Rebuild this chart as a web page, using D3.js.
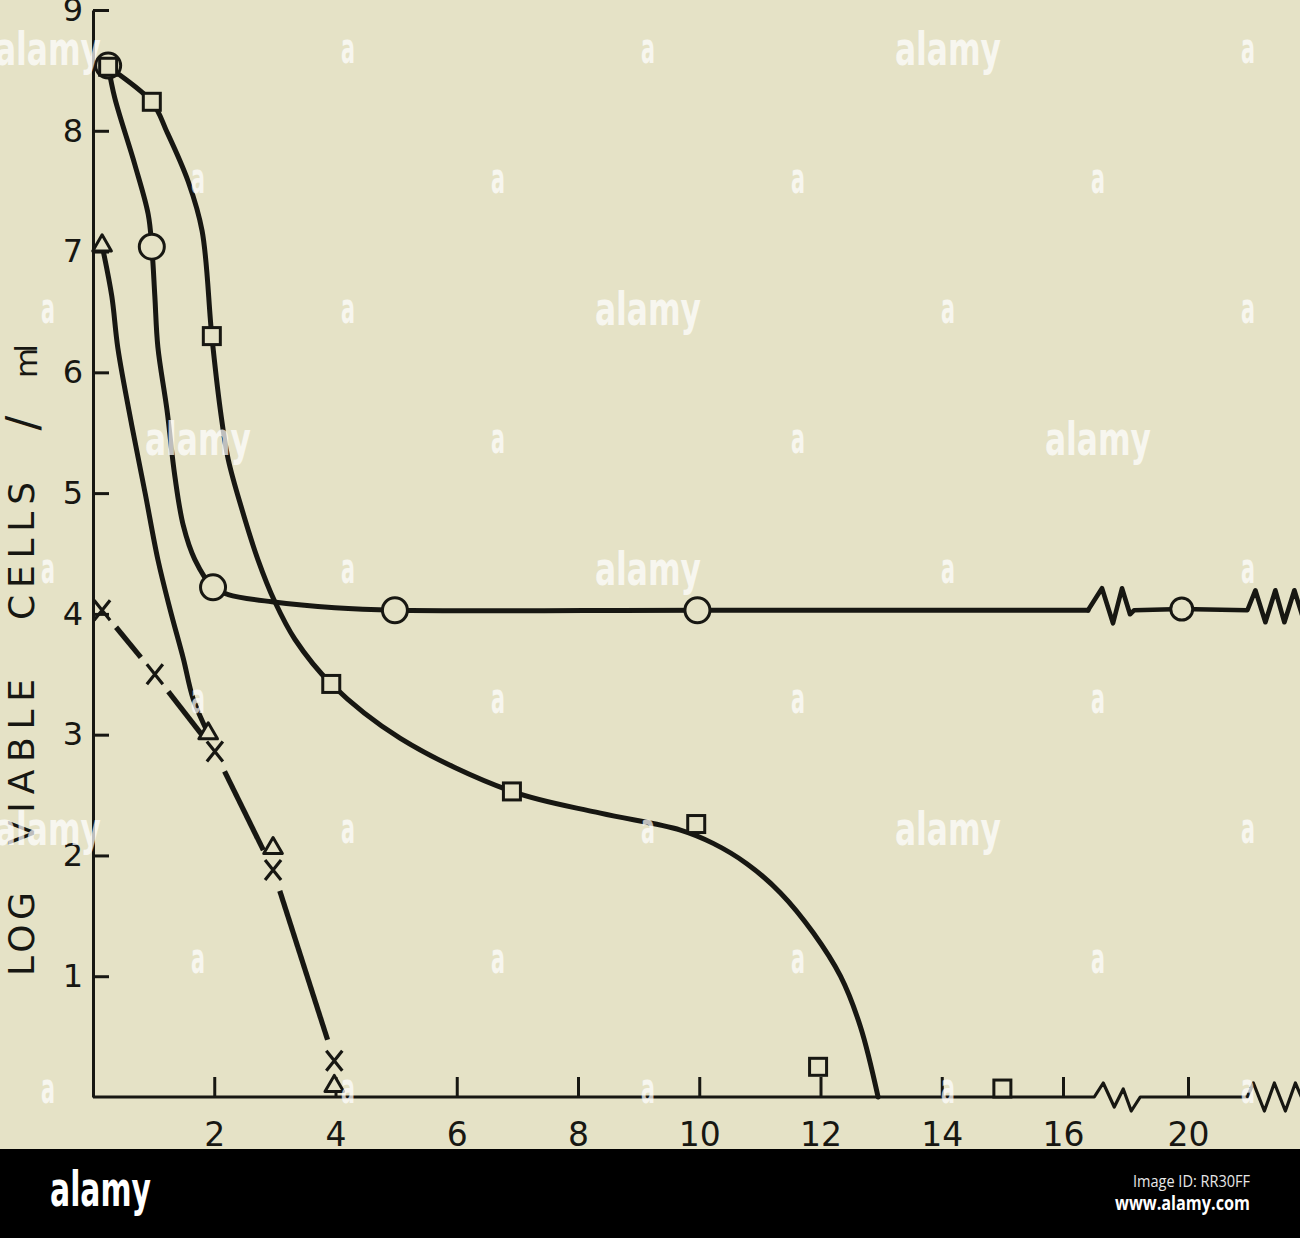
<!DOCTYPE html>
<html><head><meta charset="utf-8">
<script src="https://d3js.org/d3.v7.min.js"></script>
<style>html,body{margin:0;padding:0;background:#e5e2c6;overflow:hidden}svg{display:block}</style>
</head><body>
<svg id="chart" width="1300" height="1238"></svg>
<script>
// ---------- data (time, log viable cells / ml) ----------
const xTicks = [2, 4, 6, 8, 10, 12, 14, 16, 20];
const yTicks = [1, 2, 3, 4, 5, 6, 7, 8, 9];
const yTitleWords = ["LOG", "VIABLE", "CELLS", "/", "ml"];

// plotted points
const circleT   = [0.25, 0.97, 1.98, 4.98, 9.97, 19.8];
const circleV   = [8.54, 7.04, 4.22, 4.03, 4.03, 4.04];
const squareT   = [0.25, 0.97, 1.96, 3.93, 6.91, 9.95, 11.96, 15.0];
const squareV   = [8.53, 8.24, 6.30, 3.42, 2.53, 2.26, 0.25, 0.07];
const triangleT = [0.15, 1.90, 2.97, 3.98];
const triangleV = [7.05, 3.01, 2.06, 0.09];
const crossT    = [0.15, 1.02, 2.01, 2.97, 3.98];
const crossV    = [4.03, 3.50, 2.86, 1.88, 0.30];

// hand-drawn fitted curves
const circleCurveT = [0.25, 0.36, 0.69, 0.91, 0.97, 1.02, 1.07, 1.22, 1.35, 1.49, 1.68, 1.98, 2.23, 2.95, 3.99, 5.0, 10.0, 16.8];
const circleCurveV = [8.54, 8.27, 7.72, 7.31, 7.04, 6.63, 6.21, 5.69, 5.14, 4.73, 4.45, 4.22, 4.16, 4.10, 4.05, 4.03, 4.03, 4.03];
const squareCurveT = [0.25, 0.97, 1.22, 1.57, 1.80, 1.96, 2.10, 2.23, 2.46, 2.72, 3.00, 3.33, 3.93, 5.07, 6.91, 8.37, 9.69, 10.23, 10.79, 11.34, 11.88, 12.33, 12.66, 12.95];
const squareCurveV = [8.53, 8.24, 7.99, 7.58, 7.17, 6.30, 5.69, 5.28, 4.86, 4.45, 4.10, 3.79, 3.42, 2.97, 2.53, 2.35, 2.21, 2.10, 1.93, 1.69, 1.36, 1.00, 0.58, 0.00];
const triangleCurveT = [0.15, 0.31, 0.41, 0.64, 0.86, 1.07, 1.27, 1.49, 1.65, 1.90];
const triangleCurveV = [7.05, 6.63, 6.20, 5.56, 5.00, 4.45, 4.04, 3.63, 3.30, 3.01];

// scale breaks (time values where the zig-zag break marks sit)
const axisBreaks = [17.0, 21.9];
const lineBreaks = [16.8, 21.9];

// ---------- drawing ----------
const W = 1300, H = 1238, BG = '#e5e2c6', INK = '#171712';
const FONT = '"DejaVu Sans", sans-serif';
const svg = d3.select('#chart');
svg.append('rect').attr('width', W).attr('height', H).attr('fill', BG);

const x = d3.scaleLinear().domain([0, 16, 20]).range([93, 1063, 1188]);
const y = d3.scaleLinear().domain([0, 9]).range([1097, 10]);
const zip = (t, v) => t.map((d, i) => [d, v[i]]);
const curveGen = d3.line().x(d => x(d[0])).y(d => y(d[1])).curve(d3.curveCatmullRom.alpha(0.5));
const pxLine = d3.line();

// Y axis
const yAxis = d3.axisLeft(y).tickValues(yTicks).tickSizeInner(-16).tickSizeOuter(0).tickPadding(10).tickFormat(d3.format('d'));
const gy = svg.append('g').attr('transform', `translate(${x(0)},0)`).call(yAxis);
gy.select('.domain').attr('stroke', INK).attr('stroke-width', 3);
gy.selectAll('.tick line').attr('stroke', INK).attr('stroke-width', 3);
gy.selectAll('.tick text').attr('fill', INK).style('font-family', FONT).style('font-size', '32px');

// X axis ticks + labels
const xAxis = d3.axisBottom(x).tickValues(xTicks).tickSizeInner(-20).tickSizeOuter(0).tickPadding(26).tickFormat(d3.format('d'));
const gx = svg.append('g').attr('transform', `translate(0,${y(0)})`).call(xAxis);
gx.select('.domain').remove();
gx.selectAll('.tick line').attr('stroke', INK).attr('stroke-width', 3);
gx.selectAll('.tick text').attr('fill', INK).style('font-family', FONT).style('font-size', '33px');

// break-mark shapes (pixel offsets)
const zigAxis1 = [[0,0],[9,-14],[20,10],[29,-8],[37,14],[46,0]];
const zigAxis2 = [[0,0],[6,-14],[17,14],[27,-14],[38,14],[48,-14],[60,14]];
const zigLine1 = [[0,0],[14,-22],[25,13],[34,-22],[42,4],[46,0]];
const zigLine2 = [[0,0],[8,-20],[18,12],[28,-20],[37,12],[47,-20],[57,12]];
function zig(t, v, offs) { const px = x(t), py = y(v); return offs.map(o => [px + o[0], py + o[1]]); }

// X axis baseline with breaks
const axisPts = [[x(0), y(0)], ...zig(axisBreaks[0], 0, zigAxis1), ...zig(axisBreaks[1], 0, zigAxis2)];
svg.append('path').attr('d', pxLine(axisPts)).attr('fill', 'none').attr('stroke', INK)
  .attr('stroke-width', 3.2).attr('stroke-linejoin', 'round');

// curves
const curveStyle = s => s.attr('fill', 'none').attr('stroke', INK).attr('stroke-width', 5)
  .attr('stroke-linejoin', 'round').attr('stroke-linecap', 'round');
svg.append('path').attr('d', curveGen(zip(circleCurveT, circleCurveV))).call(curveStyle);
const flatV = circleCurveV[circleCurveV.length - 1];
const circleTail = [...zig(lineBreaks[0], flatV, zigLine1), [x(circleT[5]), y(circleV[5])], ...zig(lineBreaks[1], flatV, zigLine2)];
svg.append('path').attr('d', pxLine(circleTail)).call(curveStyle).attr('stroke-width', 4.6);
svg.append('path').attr('d', curveGen(zip(squareCurveT, squareCurveV))).call(curveStyle);
svg.append('path').attr('d', curveGen(zip(triangleCurveT, triangleCurveV))).call(curveStyle);

// dashed cross line: one dash between successive crosses
const crossPts = zip(crossT, crossV).map(d => [x(d[0]), y(d[1])]);
const GAP = 22;
for (let i = 0; i < crossPts.length - 1; i++) {
  const [x1, y1] = crossPts[i], [x2, y2] = crossPts[i + 1];
  const L = Math.hypot(x2 - x1, y2 - y1);
  if (L <= 2 * GAP + 6) continue;
  const ux = (x2 - x1) / L, uy = (y2 - y1) / L;
  svg.append('path').attr('d', pxLine([[x1 + ux * GAP, y1 + uy * GAP], [x2 - ux * GAP, y2 - uy * GAP]]))
    .attr('stroke', INK).attr('stroke-width', 5.2).attr('fill', 'none');
}

// markers
svg.append('g').selectAll('circle').data(zip(circleT, circleV)).join('circle')
  .attr('cx', d => x(d[0])).attr('cy', d => y(d[1])).attr('r', (d, i) => i === 5 ? 11 : 12.5)
  .attr('fill', BG).attr('stroke', INK).attr('stroke-width', 3);
svg.append('g').selectAll('rect').data(zip(squareT, squareV)).join('rect')
  .attr('x', d => x(d[0]) - 8.5).attr('y', d => y(d[1]) - 8.5).attr('width', 17).attr('height', 17)
  .attr('fill', BG).attr('stroke', INK).attr('stroke-width', 3);
const tri = d3.symbol().type(d3.symbolTriangle).size(150);
svg.append('g').selectAll('path').data(zip(triangleT, triangleV)).join('path')
  .attr('d', tri).attr('transform', d => `translate(${x(d[0])},${y(d[1])})`)
  .attr('fill', BG).attr('stroke', INK).attr('stroke-width', 3).attr('stroke-linejoin', 'round');
svg.append('g').selectAll('path').data(zip(crossT, crossV)).join('path')
  .attr('d', 'M-8,-10L8,10M8,-10L-8,10').attr('transform', d => `translate(${x(d[0])},${y(d[1])})`)
  .attr('fill', 'none').attr('stroke', INK).attr('stroke-width', 3.2);

// Y title (rotated, hand-lettered style)
const titleLayout = [
  {cy: 934, bx: 34, size: 36, len: 84},
  {cy: 762, bx: 34, size: 36, len: 166},
  {cy: 551, bx: 34, size: 36, len: 138},
  {cy: 423, bx: 38, size: 44, len: null},
  {cy: 361, bx: 37, size: 31, len: 34}
];
yTitleWords.forEach((w, i) => {
  const L = titleLayout[i];
  const t = svg.append('text').text(w)
    .attr('transform', `translate(${L.bx},${L.cy}) rotate(-90)`)
    .attr('text-anchor', 'middle').attr('fill', INK)
    .style('font-family', FONT).style('font-size', L.size + 'px');
  if (L.len) t.attr('textLength', L.len).attr('lengthAdjust', 'spacing');
});

// stock-photo watermarks
const bigMarks = [[48,52],[948,52],[648,312],[198,442],[1098,442],[648,572],[48,832],[948,832]];
const smallMarks = [[348,52],[648,52],[1248,52],[198,182],[498,182],[798,182],[1098,182],
  [48,312],[348,312],[948,312],[1248,312],[498,442],[798,442],
  [48,572],[348,572],[948,572],[1248,572],[198,702],[498,702],[798,702],[1098,702],
  [348,832],[648,832],[1248,832],[198,962],[498,962],[798,962],[1098,962],
  [48,1092],[348,1092],[648,1092],[948,1092],[1248,1092]];
const WMFONT = '"Liberation Sans Narrow", "DejaVu Sans Condensed", sans-serif';
const wm = svg.append('g').attr('fill', '#ffffff').attr('opacity', 0.72)
  .style('font-family', WMFONT).style('font-weight', 'bold');
wm.selectAll('text.big').data(bigMarks).join('text').attr('class', 'big')
  .attr('x', d => d[0]).attr('y', d => d[1] + 13).attr('text-anchor', 'middle')
  .attr('textLength', 106).attr('lengthAdjust', 'spacingAndGlyphs')
  .style('font-size', '46px').text('alamy');
wm.selectAll('text.small').data(smallMarks).join('text').attr('class', 'small')
  .attr('x', d => d[0]).attr('y', d => d[1] + 11).attr('text-anchor', 'middle')
  .attr('textLength', 14).attr('lengthAdjust', 'spacingAndGlyphs')
  .style('font-size', '42px').text('a');

// bottom banner
svg.append('rect').attr('x', 0).attr('y', 1149).attr('width', W).attr('height', H - 1149).attr('fill', '#000');
svg.append('text').attr('x', 50).attr('y', 1206).attr('fill', '#fff')
  .attr('textLength', 101).attr('lengthAdjust', 'spacingAndGlyphs')
  .style('font-family', WMFONT).style('font-weight', 'bold').style('font-size', '48px').text('alamy');
svg.append('text').attr('x', 1250).attr('y', 1187).attr('text-anchor', 'end').attr('fill', '#e8e8e8')
  .attr('textLength', 117).attr('lengthAdjust', 'spacingAndGlyphs')
  .style('font-family', '"Open Sans", sans-serif').style('font-size', '16px').text('Image ID: RR30FF');
svg.append('text').attr('x', 1250).attr('y', 1210).attr('text-anchor', 'end').attr('fill', '#ffffff')
  .attr('textLength', 135).attr('lengthAdjust', 'spacingAndGlyphs')
  .style('font-family', '"Open Sans", sans-serif').style('font-weight', 'bold').style('font-size', '19px').text('www.alamy.com');
</script>
</body></html>
